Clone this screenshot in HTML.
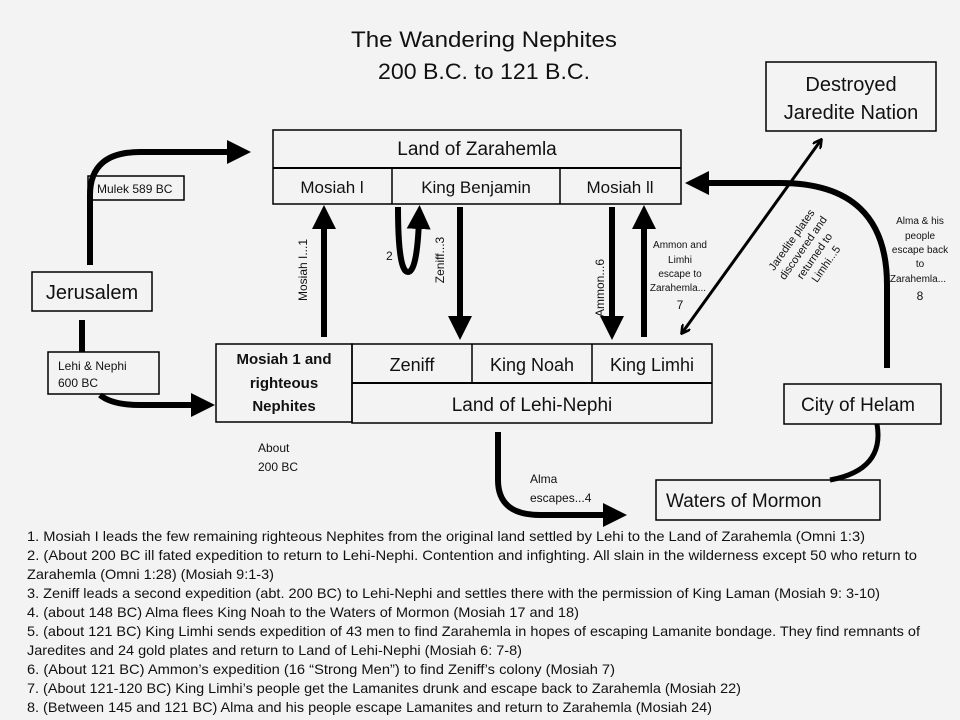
<!DOCTYPE html>
<html><head><meta charset="utf-8"><style>
html,body{margin:0;padding:0;background:#f3f3f3}
svg{display:block}
text{font-family:"Liberation Sans",sans-serif;fill:#111}
</style></head><body>
<svg width="960" height="720" viewBox="0 0 960 720">
<defs>
<marker id="ah" markerWidth="4" markerHeight="4" refX="1.5" refY="2" orient="auto" markerUnits="strokeWidth"><path d="M0,0 L4,2 L0,4 Z" fill="#000"/></marker>
<marker id="ah2" markerWidth="10" markerHeight="10" refX="8" refY="5" orient="auto" markerUnits="userSpaceOnUse"><path d="M0,0 L9,5 L0,10" fill="none" stroke="#000" stroke-width="2.5"/></marker>
<marker id="ah2s" markerWidth="10" markerHeight="10" refX="8" refY="5" orient="auto-start-reverse" markerUnits="userSpaceOnUse"><path d="M0,0 L9,5 L0,10" fill="none" stroke="#000" stroke-width="2.5"/></marker>
</defs>
<rect width="960" height="720" fill="#f3f3f3"/>
<text x="484" y="47" font-size="22" text-anchor="middle" textLength="266" lengthAdjust="spacingAndGlyphs">The Wandering Nephites</text>
<text x="484" y="79" font-size="22" text-anchor="middle" textLength="212" lengthAdjust="spacingAndGlyphs">200 B.C. to 121 B.C.</text>

<g fill="none" stroke="#000" stroke-width="1.5">
<rect x="766" y="62" width="170" height="69"/>
<rect x="273" y="130" width="408" height="74"/>
<line x1="273" y1="168" x2="681" y2="168" stroke-width="2"/>
<line x1="392" y1="168" x2="392" y2="204"/>
<line x1="560" y1="168" x2="560" y2="204"/>
<rect x="32" y="272" width="120" height="39"/>
<rect x="88" y="176" width="96" height="24"/>
<rect x="48" y="352" width="111" height="42"/>
<rect x="216" y="344" width="136" height="78"/>
<rect x="352" y="344" width="360" height="79"/>
<line x1="352" y1="383" x2="712" y2="383" stroke-width="2"/>
<line x1="472" y1="344" x2="472" y2="383"/>
<line x1="592" y1="344" x2="592" y2="383"/>
<rect x="784" y="384" width="157" height="40"/>
<rect x="656" y="480" width="224" height="40"/>
</g>

<text x="851" y="91" font-size="20" text-anchor="middle">Destroyed</text>
<text x="851" y="119" font-size="20" text-anchor="middle">Jaredite Nation</text>
<text x="477" y="155" font-size="19" text-anchor="middle">Land of Zarahemla</text>
<text x="332" y="193" font-size="17" text-anchor="middle">Mosiah l</text>
<text x="476" y="193" font-size="17" text-anchor="middle">King Benjamin</text>
<text x="620" y="193" font-size="17" text-anchor="middle">Mosiah ll</text>
<text x="92" y="299" font-size="20" text-anchor="middle">Jerusalem</text>
<text x="97" y="193" font-size="12">Mulek 589 BC</text>
<text x="58" y="370" font-size="12">Lehi &amp; Nephi</text>
<text x="58" y="387" font-size="12">600 BC</text>
<text x="284" y="364" font-size="15" text-anchor="middle" font-weight="bold">Mosiah 1 and</text>
<text x="284" y="388" font-size="15" text-anchor="middle" font-weight="bold">righteous</text>
<text x="284" y="411" font-size="15" text-anchor="middle" font-weight="bold">Nephites</text>
<text x="412" y="371" font-size="18" text-anchor="middle">Zeniff</text>
<text x="532" y="371" font-size="18" text-anchor="middle">King Noah</text>
<text x="652" y="371" font-size="18" text-anchor="middle">King Limhi</text>
<text x="532" y="411" font-size="19" text-anchor="middle">Land of Lehi-Nephi</text>
<text x="858" y="411" font-size="19" text-anchor="middle">City of Helam</text>
<text x="666" y="507" font-size="19">Waters of Mormon</text>
<text x="258" y="452" font-size="12">About</text>
<text x="258" y="471" font-size="12">200 BC</text>
<text x="530" y="483" font-size="12">Alma</text>
<text x="530" y="502" font-size="12">escapes...4</text>
<text x="386" y="260" font-size="12">2</text>
<text x="680" y="248" font-size="10" text-anchor="middle">Ammon and</text>
<text x="680" y="263" font-size="10" text-anchor="middle">Limhi</text>
<text x="680" y="277" font-size="10" text-anchor="middle">escape to</text>
<text x="678" y="291" font-size="10" text-anchor="middle">Zarahemla...</text>
<text x="680" y="309" font-size="12" text-anchor="middle">7</text>
<text x="920" y="224" font-size="10" text-anchor="middle">Alma &amp; his</text>
<text x="920" y="239" font-size="10" text-anchor="middle">people</text>
<text x="920" y="253" font-size="10" text-anchor="middle">escape back</text>
<text x="920" y="267" font-size="10" text-anchor="middle">to</text>
<text x="918" y="282" font-size="10" text-anchor="middle">Zarahemla...</text>
<text x="920" y="300" font-size="12" text-anchor="middle">8</text>
<text transform="translate(307,270) rotate(-90)" font-size="12" text-anchor="middle">Mosiah I...1</text>
<text transform="translate(444,260) rotate(-90)" font-size="12" text-anchor="middle">Zeniff...3</text>
<text transform="translate(604,288) rotate(-90)" font-size="12" text-anchor="middle">Ammon...6</text>
<g transform="translate(806,250) rotate(-55)" font-size="11" text-anchor="middle">
<text x="0" y="-14">Jaredite plates</text><text x="0" y="0">discovered and</text><text x="0" y="14">returned to</text><text x="0" y="28">Limhi...5</text></g>

<g fill="none" stroke="#000" stroke-width="6">
<path d="M90,265 V195 Q90,152 140,152 H236" marker-end="url(#ah)"/>
<path d="M82,320 V352 M100,395 Q112,405 140,405 H200" marker-end="url(#ah)"/>
<path d="M324,337 V220" marker-end="url(#ah)"/>
<path d="M460,207 V325" marker-end="url(#ah)"/>
<path d="M612,207 V325" marker-end="url(#ah)"/>
<path d="M644,337 V220" marker-end="url(#ah)"/>
<path d="M398,207 Q398,272 408,272 Q417,272 419,220" marker-end="url(#ah)"/>
<path d="M498,432 V480 Q498,515 540,515 H612" marker-end="url(#ah)"/>
<path d="M887,368 V285 Q887,183 780,183 H700" marker-end="url(#ah)"/>
<path d="M877,424 Q885,470 830,480" stroke-width="5"/>
</g>
<line x1="682" y1="333" x2="821" y2="140" stroke="#000" stroke-width="3" marker-end="url(#ah2)" marker-start="url(#ah2s)"/>

<g font-size="14">
<text x="27" y="541" textLength="838" lengthAdjust="spacingAndGlyphs">1. Mosiah I leads the few remaining righteous Nephites from the original land settled by Lehi to the Land of Zarahemla (Omni 1:3)</text>
<text x="27" y="560" textLength="890" lengthAdjust="spacingAndGlyphs">2. (About 200 BC ill fated expedition to return to Lehi-Nephi. Contention and infighting. All slain in the wilderness except 50 who return to</text>
<text x="27" y="579" textLength="247" lengthAdjust="spacingAndGlyphs">Zarahemla (Omni 1:28) (Mosiah 9:1-3)</text>
<text x="27" y="598" textLength="853" lengthAdjust="spacingAndGlyphs">3. Zeniff leads a second expedition (abt. 200 BC) to Lehi-Nephi and settles there with the permission of King Laman (Mosiah 9: 3-10)</text>
<text x="27" y="617" textLength="552" lengthAdjust="spacingAndGlyphs">4. (about 148 BC) Alma flees King Noah to the Waters of Mormon (Mosiah 17 and 18)</text>
<text x="27" y="636" textLength="893" lengthAdjust="spacingAndGlyphs">5. (about 121 BC) King Limhi sends expedition of 43 men to find Zarahemla in hopes of escaping Lamanite bondage. They find remnants of</text>
<text x="27" y="655" textLength="495" lengthAdjust="spacingAndGlyphs">Jaredites and 24 gold plates and return to Land of Lehi-Nephi (Mosiah 6: 7-8)</text>
<text x="27" y="674" textLength="588" lengthAdjust="spacingAndGlyphs">6. (About 121 BC) Ammon’s expedition (16 “Strong Men”) to find Zeniff’s colony (Mosiah 7)</text>
<text x="27" y="693" textLength="714" lengthAdjust="spacingAndGlyphs">7. (About 121-120 BC) King Limhi’s people get the Lamanites drunk and escape back to Zarahemla (Mosiah 22)</text>
<text x="27" y="712" textLength="685" lengthAdjust="spacingAndGlyphs">8. (Between 145 and 121 BC) Alma and his people escape Lamanites and return to Zarahemla (Mosiah 24)</text>
</g>
</svg>
</body></html>
